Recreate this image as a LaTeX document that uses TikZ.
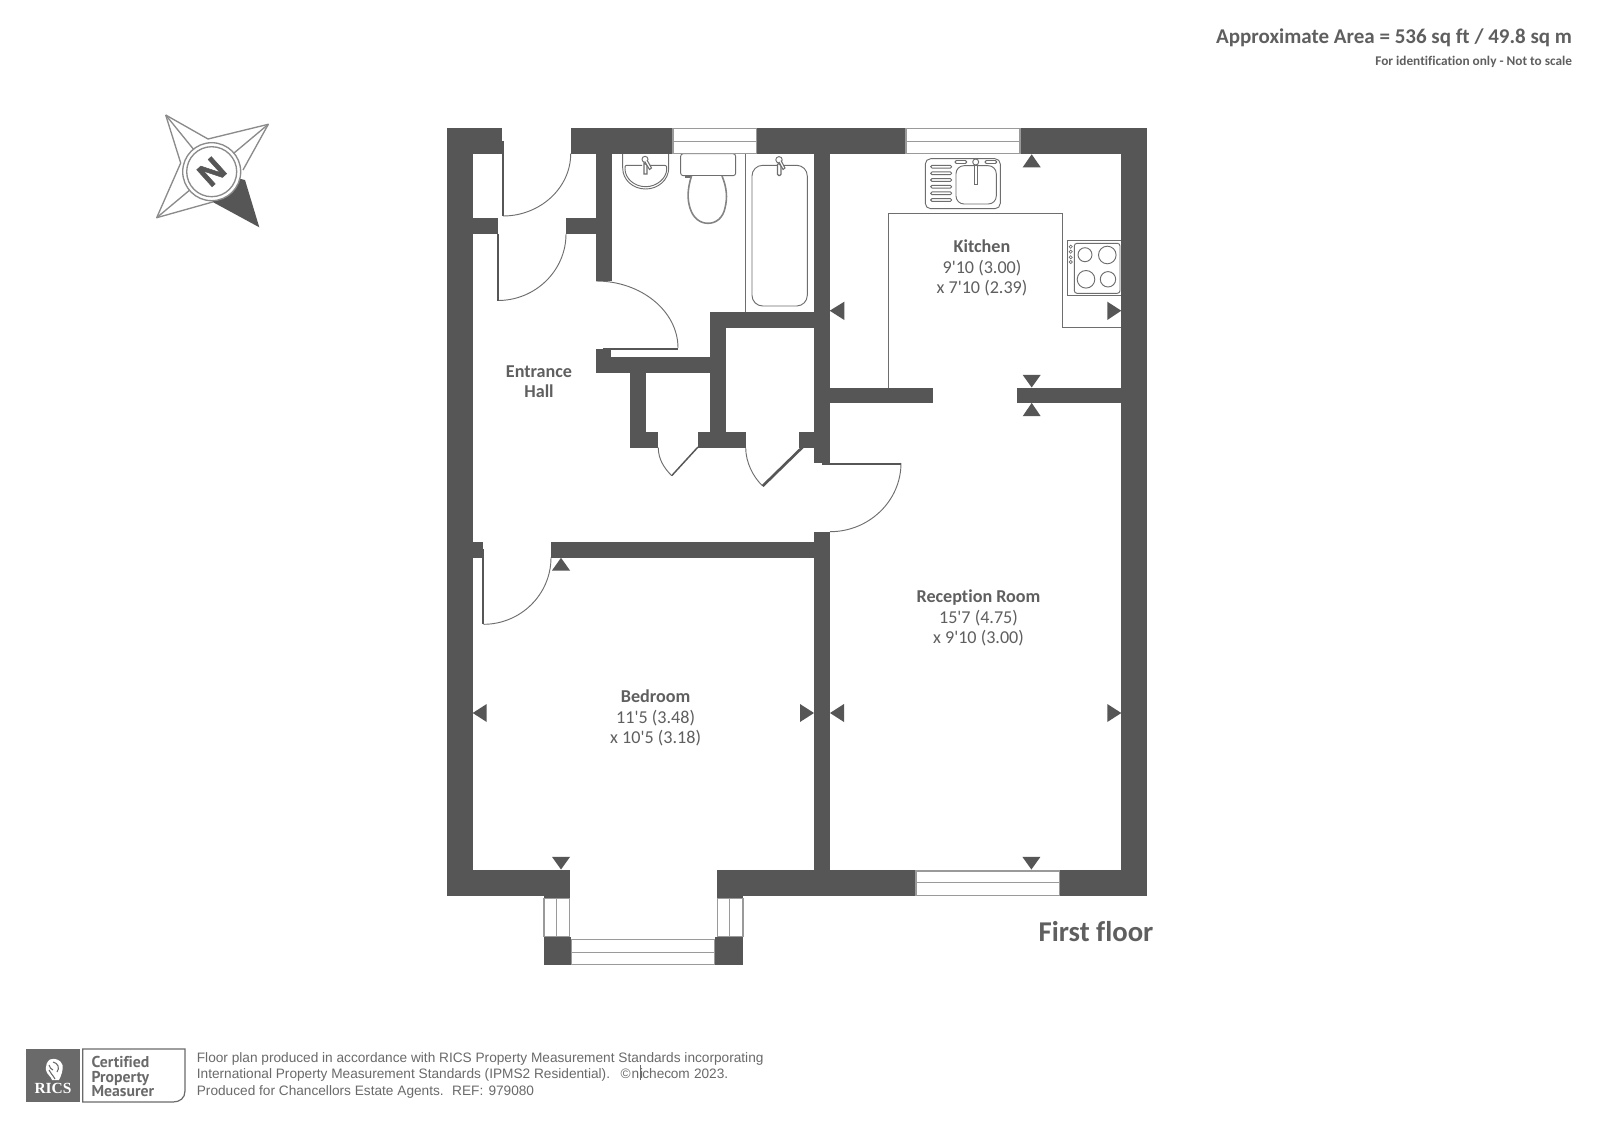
\documentclass[tikz,border=0pt]{standalone}
\usepackage{fontspec}
\setmainfont{Liberation Sans}
\newfontfamily\carl[Ligatures=NoCommon]{Carlito}
\newfontfamily\ptsans[Ligatures=NoCommon]{PT Sans}
\newfontfamily\libser{Liberation Serif}
\definecolor{wallc}{HTML}{565656}
\definecolor{linec}{HTML}{6E6E6E}
\definecolor{winc}{HTML}{9A9A9A}
\definecolor{txtc}{HTML}{5F5F5F}
\definecolor{foot}{HTML}{6A6A6A}
\newcommand{\fsz}[2]{\fontsize{#1}{#2}\selectfont}
\tikzset{
  wallfill/.style={fill=wallc},
  winbox/.style={draw=winc,fill=white,line width=0.9pt},
  thin line/.style={draw=linec,line width=0.7pt},
  fixture/.style={draw=linec,line width=0.7pt,fill=white},
  doorarc/.style={draw=linec,line width=0.7pt},
  mark tri/.style={fill=wallc},
  roomtxt/.style={inner sep=0pt,align=center,text=txtc,font=\carl\fsz{13.6}{15.4}},
  foottxt/.style={inner sep=0pt,anchor=base west,text=foot,font=\fsz{10.25}{12}},
  head tx/.style={inner sep=0pt,anchor=east,text=txtc,font=\carl\bfseries},
}
\begin{document}
\begin{tikzpicture}[x=0.75pt,y=-0.75pt]
\useasboundingbox (0,0) rectangle (1600,1131);
\fill[white] (0,0) rectangle (1600,1131);
% ---- texts top
\node[head tx,font=\carl\bfseries\fsz{15.75}{18}] (area) at (1572.3,37.5) {Approximate Area = 536 sq ft / 49.8 sq m};
\node[head tx,font=\carl\bfseries\fsz{9.97}{11}] (scale) at (1572.3,62.3) {For identification only - Not to scale};
% ---- compass
\coordinate (cc) at (211.7,171.7);
\coordinate (nw) at (165.7,115);
\coordinate (ne) at (268.3,124.3);
\coordinate (sw) at (156.7,217.7);
\coordinate (se) at (259.3,227.3);
\coordinate (nt) at (208,139);
\coordinate (rt) at (243,170);
\coordinate (bt) at (212.7,202);
\coordinate (lt) at (180.7,163);
\coordinate (dr) at (245,180);
\draw[draw=linec!80,line width=1pt,line join=round] (nw) -- (nt) -- (ne) -- (rt) (bt) -- (sw) -- (lt) -- (nw);
\draw[draw=linec!80,line width=1pt] (nw) -- (cc) (ne) -- (cc) (sw) -- (cc);
\fill[wallc] (dr) -- (se) -- (bt) -- (cc) -- cycle;
\fill[white] (cc) circle[radius=29];
\draw[draw=linec!80,line width=1pt] (cc) circle[radius=29];
\draw[draw=linec!80,line width=1pt] (cc) circle[radius=25];
\node[inner sep=0pt,text=wallc,rotate=42,font=\bfseries\fsz{25}{25}\addfontfeature{FakeBold=1.5}] (north) at (cc) {N};
% ---- fixtures
% counter lines
\draw[thin line] (888.3,388) -- (888.3,213.7) -- (1062.3,213.7) -- (1062.3,327.3) -- (1121,327.3);
% hob
\draw[fixture] (1067,240.7) rectangle (1121,295.7);
\draw[fixture,rounded corners=2pt] (1074.3,243.3) rectangle (1120,293.3);
\foreach \px/\py/\pr in {1085/254.7/7,1107.3/255/8.8,1086/279.3/8.8,1108/279.3/7.7}
  \draw[draw=linec,line width=0.7pt] (\px,\py) circle[radius=\pr];
\foreach \py in {246.7,251.7,257.3,262}
  \draw[draw=linec,line width=0.5pt] (1070.7,\py) circle[radius=1.6];
% sink
\draw[fixture,rounded corners=4pt] (925.3,158.7) rectangle (1000.3,208.7);
\draw[fixture,rounded corners=6pt] (956,165.7) rectangle (996.3,204);
\foreach \py in {166.7,173.3,180,186.7,193.3,200}
  \draw[fixture,rounded corners=1pt] (930.7,\py-1.4) rectangle (951.7,\py+1.4);
\draw[fixture,rounded corners=1pt] (955,160.5) rectangle (966.7,163.5);
\draw[fixture,rounded corners=1pt] (985,160.5) rectangle (996.7,163.5);
\draw[fixture] (974.2,165) rectangle (977.2,184);
\draw[fixture] (975.7,162) circle[radius=3];
% bath
\draw[thin line] (745.3,153.7) -- (745.3,312);
\draw[fixture,rounded corners=8pt] (752,165.3) rectangle (807.3,306);
\draw[draw=linec,fill=white,line width=0.9pt,rounded corners=1pt] (777.5,163) -- (777.5,175.5) -- (781,175.5) -- (781,165) -- cycle;
\draw[fixture] (779,159.8) circle[radius=3.2];
\draw[draw=linec,fill=white,line width=0.8pt] (781,160.5) -- (785,168) -- (783,169.5) -- (779,162);
% wc
\draw[fixture,rounded corners=2pt] (680.6,153.7) rectangle (735.7,175.7);
\fill[linec] (685,175.7) rectangle (691,178);
\draw[draw=linec!85,fill=white,line width=1.2pt] (691.5,176) .. controls (687,190) and (687.5,200) .. (690,208) .. controls (693,218) and (700,223.3) .. (708,223.3) .. controls (716,223.3) and (723,218) .. (725,208) .. controls (727.5,198) and (727,188) .. (722,176);
% basin
\draw[fixture] (622.7,153.7) -- (622.7,168) .. controls (622.7,180) and (633,189) .. (645.7,189) .. controls (658,189) and (668.7,180) .. (668.7,168) -- (668.7,153.7);
\draw[fixture] (626,165.3) -- (642,165.3) (650,165.3) -- (664,165.3) .. controls (667.5,165.3) and (666.7,168) .. (666.7,169) .. controls (666.7,178) and (657,186.7) .. (645.7,186.7) .. controls (634,186.7) and (625,178) .. (625,169) .. controls (625,167) and (625,165.3) .. (626,165.3);
\draw[draw=linec,fill=white,line width=0.9pt] (644,163) -- (644,174) -- (647,174) -- (647,165) -- cycle;
\draw[fixture] (645,159.3) circle[radius=3];
\draw[draw=linec,fill=white,line width=0.8pt] (647,160) -- (651.5,168) -- (649.5,169.5) -- (645,162);
% ---- door arcs and leaves
\draw[doorarc] (570.7,153.7) .. controls (570.7,188) and (540,216) .. (503,216);
\draw[doorarc] (566,234) .. controls (566,270.6) and (535.4,300.5) .. (498,300.5);
\draw[doorarc] (596,281) .. controls (641,281) and (678,311) .. (678,348);
\draw[doorarc] (901,463) .. controls (901,501) and (869,531.7) .. (830,531.7);
\draw[doorarc] (551,557.5) .. controls (551,594.5) and (520.6,624.3) .. (483.5,624.3);
\draw[doorarc] (658.3,447.7) .. controls (658.3,459) and (664,468) .. (671.7,475.7);
\draw[doorarc] (745.7,447.7) .. controls (745.7,462) and (753,477) .. (762.7,486);
\draw[draw=wallc,line width=1.1pt] (698,447) -- (671.7,475.7);
\draw[draw=wallc,line width=2pt] (802.7,447) -- (762.7,486);
\fill[wallfill] (502,141) rectangle (504,216);
\fill[wallfill] (497,234) rectangle (499,300.5);
\fill[wallfill] (602.7,347.5) rectangle (678,350);
\fill[wallfill] (821.7,462.7) rectangle (901,465);
\fill[wallfill] (482,549) rectangle (484,624.3);
% ---- walls
\fill[wallfill] (446.7,128.5) rectangle (472.7,895.8); % outer left
\fill[wallfill] (446.7,128.5) rectangle (502,153.7);
\fill[wallfill] (570.7,128.5) rectangle (673,153.7);
\fill[wallfill] (756.7,128.5) rectangle (906,153.7);
\fill[wallfill] (1020,128.5) rectangle (1147.3,153.7);
\fill[wallfill] (1121.3,128.5) rectangle (1147.3,895.8); % outer right
\fill[wallfill] (446.7,869.5) rectangle (569.5,895.8);
\fill[wallfill] (544,895) rectangle (569.5,898.3);
\fill[wallfill] (716.9,869.5) rectangle (916,895.8);
\fill[wallfill] (716.9,895) rectangle (743,898.3);
\fill[wallfill] (1059.4,869.5) rectangle (1147.3,895.8);
\fill[wallfill] (916,869.5) rectangle (1059.4,871);
\fill[wallfill] (472.7,217.7) rectangle (498,234);
\fill[wallfill] (566,217.7) rectangle (611.7,234);
\fill[wallfill] (595.7,153.7) rectangle (611.7,281);
\fill[wallfill] (710,312) rectangle (814,328);
\fill[wallfill] (710,312) rectangle (725.7,447.7);
\fill[wallfill] (814,153.7) rectangle (830,462.7);
\fill[wallfill] (814,531.7) rectangle (830,869.5);
\fill[wallfill] (595.5,349.3) rectangle (611,373.3);
\fill[wallfill] (595.5,357.3) rectangle (710,373.3);
\fill[wallfill] (630,357.3) rectangle (646,447.7);
\fill[wallfill] (630,432) rectangle (658.3,447.7);
\fill[wallfill] (697.7,432) rectangle (745.7,447.7);
\fill[wallfill] (799,432) rectangle (814,447.7);
\fill[wallfill] (550.7,541.8) rectangle (814,557.8);
\fill[wallfill] (472.7,541.8) rectangle (483,557.8);
\fill[wallfill] (830,387.5) rectangle (933.3,402.9);
\fill[wallfill] (1017.3,387.5) rectangle (1121.3,402.9);
% ---- windows
\draw[winbox] (673,128.8) rectangle (756.7,153.7);
\draw[draw=winc,line width=0.8pt] (673,141.3) -- (756.7,141.3);
\draw[winbox] (906,128.8) rectangle (1020,153.7);
\draw[draw=winc,line width=0.8pt] (906,141.3) -- (1020,141.3);
\draw[winbox] (916,871) rectangle (1059.4,895.8);
\draw[draw=winc,line width=0.8pt] (916,882.5) -- (1059.4,882.5);
% bay
\draw[winbox] (544,898.3) rectangle (569.5,936.7);
\draw[draw=winc,line width=0.8pt] (556.6,898.3) -- (556.6,936.7);
\draw[winbox] (717.3,898.3) rectangle (743,936.7);
\draw[draw=winc,line width=0.8pt] (729.7,898.3) -- (729.7,936.7);
\draw[winbox] (571.3,939.3) rectangle (714.6,964.7);
\draw[draw=winc,line width=0.8pt] (571.3,952.7) -- (714.6,952.7);
\fill[wallfill] (543.8,936.7) rectangle (571.3,965);
\fill[wallfill] (714.6,936.7) rectangle (743,965);
% ---- measure marks
\fill[mark tri] (1031.7,154.3) -- (1040.7,167.3) -- (1022.7,167.3) -- cycle;
\fill[mark tri] (829.7,310.7) -- (844.3,301.7) -- (844.3,320) -- cycle;
\fill[mark tri] (1121.3,310.7) -- (1107.3,301.7) -- (1107.3,320) -- cycle;
\fill[mark tri] (1031.7,387.5) -- (1040.7,374.9) -- (1022.7,374.9) -- cycle;
\fill[mark tri] (1031.7,402.9) -- (1040.7,416.2) -- (1022.7,416.2) -- cycle;
\fill[mark tri] (561,557.8) -- (570,570.5) -- (552,570.5) -- cycle;
\fill[mark tri] (472.7,713) -- (486.7,704) -- (486.7,722) -- cycle;
\fill[mark tri] (814,713) -- (800,704) -- (800,722) -- cycle;
\fill[mark tri] (830,713) -- (844,704) -- (844,722) -- cycle;
\fill[mark tri] (1121.3,713) -- (1107.3,704) -- (1107.3,722) -- cycle;
\fill[mark tri] (561,869.5) -- (570,856.9) -- (552,856.9) -- cycle;
\fill[mark tri] (1031.4,869.5) -- (1040.4,856.9) -- (1022.4,856.9) -- cycle;
% ---- room labels
\node[roomtxt] (kitchen) at (982,268.3) {\bfseries Kitchen\\9'10 (3.00)\\x 7'10 (2.39)};
\node[roomtxt] (hall) at (539,381.6) {\bfseries Entrance\\\bfseries Hall};
\node[roomtxt] (reception) at (978.5,618) {\bfseries Reception Room\\15'7 (4.75)\\x 9'10 (3.00)};
\node[roomtxt] (bedroom) at (655.6,718) {\bfseries Bedroom\\11'5 (3.48)\\x 10'5 (3.18)};
\node[inner sep=0pt,text=txtc,font=\carl\bfseries\fsz{21.5}{24}] (floor) at (1096,931.5) {First floor};
% ---- RICS block
\fill[foot] (25.7,1049) rectangle (79.7,1102);
\draw[draw=foot,fill=white,line width=0.9pt] (82.7,1049) -- (185,1049) -- (185,1091) .. controls (185,1098) and (180,1102) .. (173,1102) -- (82.7,1102) -- cycle;
% lion mark
\fill[white] (50,1059.5) .. controls (55,1057.5) and (61,1060) .. (62.5,1065) .. controls (63.5,1070) and (61,1076) .. (59,1080) -- (52,1080) .. controls (51,1076) and (47,1075) .. (46,1070) .. controls (45.5,1066) and (47,1061) .. (50,1059.5) -- cycle;
\draw[draw=foot,line width=0.8pt] (53,1062) .. controls (58,1063) and (60,1068) .. (57,1072) (49,1065) .. controls (50,1068) and (51,1069) .. (53,1070) (49,1070) .. controls (50,1073) and (53,1075) .. (55,1079);
\node[inner sep=0pt,text=white,font=\libser\bfseries\fsz{11.6}{12}] (rics) at (53,1088.7) {RICS};
\node[inner sep=0pt,anchor=west,align=left,text=foot,font=\ptsans\bfseries\fsz{11.8}{10.8}] (cpm) at (91.3,1076.5) {Certified\\Property\\Measurer};
% ---- footer
\node[foottxt] (f1) at (196.6,1062.2) {Floor plan produced in accordance with RICS Property Measurement Standards incorporating};
\node[foottxt] (f2) at (196.6,1078.6) {International Property Measurement Standards (IPMS2 Residential).\hspace{0.4em} ©\kern0.8pt n\rlap{\kern0.1pt\rule[-1pt]{0.4pt}{11.5pt}}\kern0.5pt i\kern-0.5pt chec\kern-0.3pt om\kern0.3pt\ 2023.};
\node[foottxt] (f3) at (196.6,1095) {Produced for Chancellors Estate Agents.\hspace{0.25em} REF:\hspace{0.1em} 979080};
\end{tikzpicture}
\end{document}
